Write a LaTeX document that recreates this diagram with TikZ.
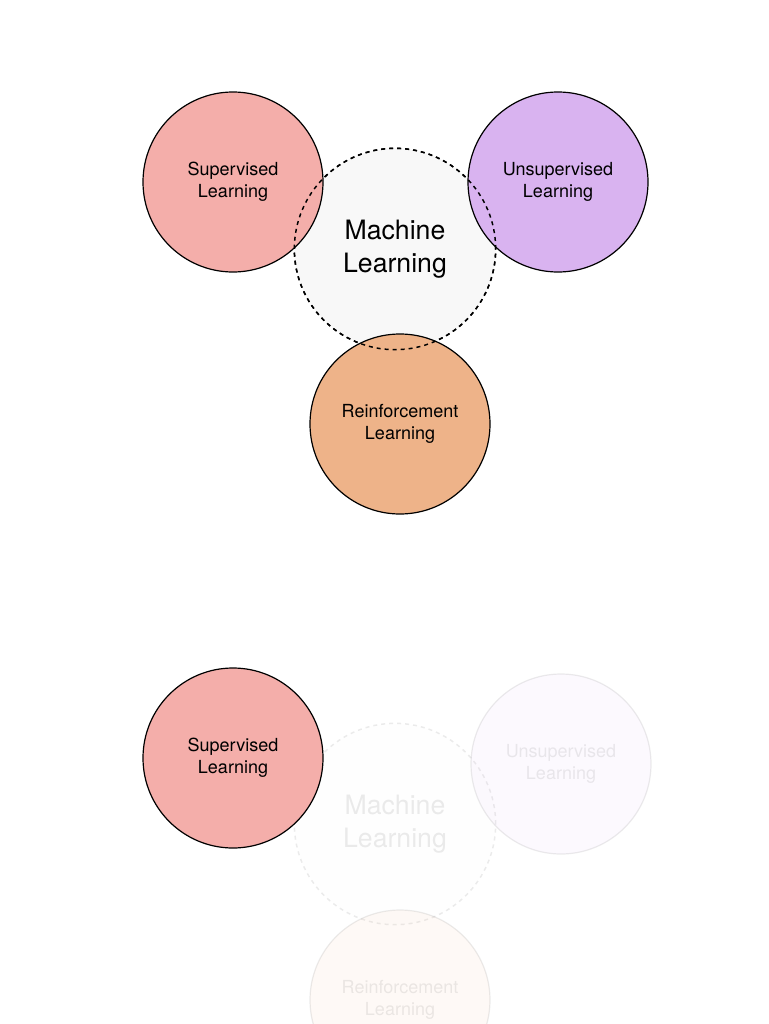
\documentclass[tikz,border=0pt]{standalone}
\usepackage{fontspec}
\setmainfont{TeX Gyre Heros}
\begin{document}
\begin{tikzpicture}[x=0.75pt,y=-0.75pt,
 sm/.style={circle,draw=black,line width=0.9pt,minimum size=135pt,inner sep=0pt,align=center,font=\fontsize{13.5}{16.5}\selectfont},
 ml/.style={circle,draw=black,dashed,line width=1.1pt,minimum size=151pt,inner sep=0pt,align=center,font=\fontsize{20}{25}\selectfont,fill={rgb,255:red,248;green,248;blue,248}},
 mlline/.style={circle,draw=black,dashed,line width=1.1pt,minimum size=151pt,inner sep=0pt}]
\definecolor{sup}{RGB}{244,174,170}
\definecolor{uns}{RGB}{217,179,240}
\definecolor{rei}{RGB}{238,179,137}
\useasboundingbox (0,0) rectangle (768,1024);
% top
\node[ml] (ml) at (395,249) {Machine\\Learning};
\node[sm,fill=sup] (s) at (233,182) {Supervised\\Learning};
\node[sm,fill=uns] (u) at (558,182) {Unsupervised\\Learning};
\node[sm,fill=rei] (r) at (400,424) {Reinforcement\\Learning};
\node[mlline] (mlo) at (395,249) {};
% bottom
\begin{scope}[opacity=0.08]
\node[ml] (ml2) at (395,824) {Machine\\Learning};
\node[sm,fill=uns] (u2) at (561,764) {Unsupervised\\Learning};
\node[sm,fill=rei] (r2) at (400,1000) {Reinforcement\\Learning};
\end{scope}
\node[sm,fill=sup] (s2) at (233,758) {Supervised\\Learning};
\end{tikzpicture}
\end{document}
